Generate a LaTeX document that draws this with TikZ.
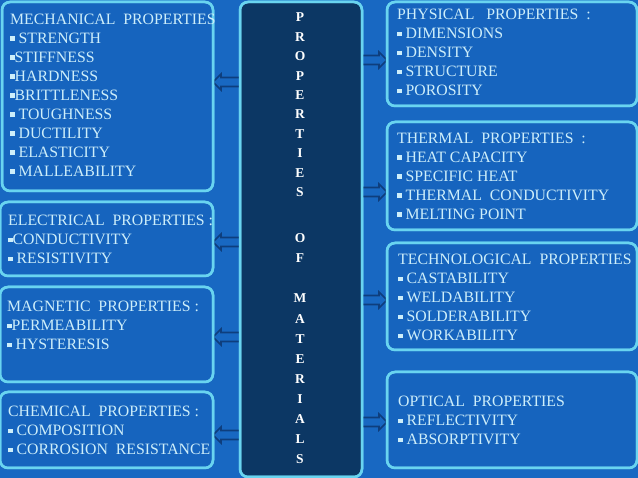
\documentclass[tikz,border=0pt]{standalone}
\usepackage{fontspec}
\setmainfont{Liberation Serif}
\usetikzlibrary{calc}
\definecolor{bgblue}{RGB}{24,104,194}
\definecolor{boxblue}{RGB}{22,100,190}
\definecolor{edge}{RGB}{105,212,240}
\definecolor{navy}{RGB}{12,55,100}
\definecolor{arrline}{RGB}{14,62,125}
\definecolor{txt}{RGB}{205,238,250}
\newcommand{\sqb}{\textcolor{txt}{\rule[2.5pt]{4.5pt}{4.5pt}}}
\newcommand{\blkL}[3]{%
  \coordinate (#1s) at (#2.west |- 0,#3);
  \coordinate (#1t) at (#1.east |- 0,#3);
  \draw[blockarr] ($(#1s)+(0,-4.5)$) -- ($(#1t)+(8,-4.5)$) -- ($(#1t)+(8,-8)$) -- (#1t)
     -- ($(#1t)+(8,8)$) -- ($(#1t)+(8,4.5)$) -- ($(#1s)+(0,4.5)$) -- cycle;}
\newcommand{\blkR}[3]{%
  \coordinate (#1s) at (#2.east |- 0,#3);
  \coordinate (#1t) at (#1.west |- 0,#3);
  \draw[blockarr] ($(#1s)+(0,-4.5)$) -- ($(#1t)+(-8,-4.5)$) -- ($(#1t)+(-8,-8)$) -- (#1t)
     -- ($(#1t)+(-8,8)$) -- ($(#1t)+(-8,4.5)$) -- ($(#1s)+(0,4.5)$) -- cycle;}
\begin{document}
\begin{tikzpicture}[x=1pt,y=-1pt,
  pbox/.style={draw=edge, line width=2.5pt, fill=boxblue, rounded corners=8pt, inner sep=0pt, outer sep=0pt},
  cbox/.style={draw=edge, line width=2.5pt, fill=navy, rounded corners=8pt, inner sep=0pt, outer sep=0pt},
  ptext/.style={anchor=base west, inner sep=0pt, text=txt, font=\fontsize{15.8}{19}\selectfont},
  ctext/.style={anchor=base, inner sep=0pt, text=white, font=\fontsize{13.5}{19.4}\selectfont\bfseries},
  blockarr/.style={draw=arrline, line width=1.6pt, fill=bgblue, line join=miter}]
\fill[bgblue] (0,0) rectangle (638,478);
\useasboundingbox (0,0) rectangle (638,478);
% boxes
\node[cbox, minimum width=122pt, minimum height=475pt] (center) at (301,239.5) {};
\node[pbox, minimum width=211pt, minimum height=189pt] (mech) at (107.5,96.5) {};
\node[pbox, minimum width=213pt, minimum height=74pt] (elec) at (106.5,239) {};
\node[pbox, minimum width=213pt, minimum height=95pt] (magn) at (106.5,334.5) {};
\node[pbox, minimum width=213pt, minimum height=76pt] (chem) at (106.5,430) {};
\node[pbox, minimum width=250pt, minimum height=104pt] (phys) at (512,54) {};
\node[pbox, minimum width=250pt, minimum height=108pt] (therm) at (512,176) {};
\node[pbox, minimum width=250pt, minimum height=107pt] (tech) at (512,296.5) {};
\node[pbox, minimum width=250pt, minimum height=96pt] (opt) at (512,420) {};
% arrows
\blkL{mech}{center}{82}
\blkL{elec}{center}{242}
\blkL{magn}{center}{337}
\blkL{chem}{center}{435}
\blkR{phys}{center}{60}
\blkR{therm}{center}{192}
\blkR{tech}{center}{300}
\blkR{opt}{center}{422}
% redraw box borders over arrow ends
\foreach \b in {mech,elec,magn,chem,phys,therm,tech,opt}{
  \draw[draw=edge, line width=2.5pt, rounded corners=8pt] (\b.north west) rectangle (\b.south east);}
\draw[draw=edge, line width=2.5pt, rounded corners=8pt] (center.north west) rectangle (center.south east);
% texts
\node[ptext] (mechtext) at (10,24.5) {\begin{tabular}[t]{@{}l@{}}
MECHANICAL\ \ PROPERTIES\\
\sqb\ STRENGTH\\
\sqb STIFFNESS\\
\sqb HARDNESS\\
\sqb BRITTLENESS\\
\sqb\ TOUGHNESS\\
\sqb\ DUCTILITY\\
\sqb\ ELASTICITY\\
\sqb\ MALLEABILITY
\end{tabular}};
\node[ptext] (electext) at (8,226) {\begin{tabular}[t]{@{}l@{}}
ELECTRICAL\ \ PROPERTIES :\\
\sqb CONDUCTIVITY\\
\sqb\ RESISTIVITY
\end{tabular}};
\node[ptext] (magntext) at (7,312) {\begin{tabular}[t]{@{}l@{}}
MAGNETIC\ \ PROPERTIES :\\
\sqb PERMEABILITY\\
\sqb\ HYSTERESIS
\end{tabular}};
\node[ptext] (chemtext) at (8,417) {\begin{tabular}[t]{@{}l@{}}
CHEMICAL\ \ PROPERTIES :\\
\sqb\ COMPOSITION\\
\sqb\ CORROSION\ \ RESISTANCE
\end{tabular}};
\node[ptext] (phystext) at (397,20) {\begin{tabular}[t]{@{}l@{}}
PHYSICAL\ \ \ PROPERTIES\ \ :\\
\sqb\ DIMENSIONS\\
\sqb\ DENSITY\\
\sqb\ STRUCTURE\\
\sqb\ POROSITY
\end{tabular}};
\node[ptext] (thermtext) at (397,143.5) {\begin{tabular}[t]{@{}l@{}}
THERMAL\ \ PROPERTIES\ \ :\\
\sqb\ HEAT CAPACITY\\
\sqb\ SPECIFIC HEAT\\
\sqb\ THERMAL\ \ CONDUCTIVITY\\
\sqb\ MELTING POINT
\end{tabular}};
\node[ptext] (techtext) at (398,265) {\begin{tabular}[t]{@{}l@{}}
TECHNOLOGICAL\ \ PROPERTIES\\
\sqb\ CASTABILITY\\
\sqb\ WELDABILITY\\
\sqb\ SOLDERABILITY\\
\sqb\ WORKABILITY
\end{tabular}};
\node[ptext] (opttext) at (398,407) {\begin{tabular}[t]{@{}l@{}}
OPTICAL\ \ PROPERTIES\\
\sqb\ REFLECTIVITY\\
\sqb\ ABSORPTIVITY
\end{tabular}};
% centre column
\node[ctext] (cprop) at (300,22) {\begin{tabular}[t]{@{}c@{}}
P\\R\\O\\P\\E\\R\\T\\I\\E\\S
\end{tabular}};
\node[ctext, font=\fontsize{13.5}{20}\selectfont\bfseries] (cof) at (300,243) {\begin{tabular}[t]{@{}c@{}}
O\\F
\end{tabular}};
\node[ctext, font=\fontsize{13.5}{20.1}\selectfont\bfseries] (cmat) at (300,303) {\begin{tabular}[t]{@{}c@{}}
M\\A\\T\\E\\R\\I\\A\\L\\S
\end{tabular}};
\end{tikzpicture}
\end{document}
